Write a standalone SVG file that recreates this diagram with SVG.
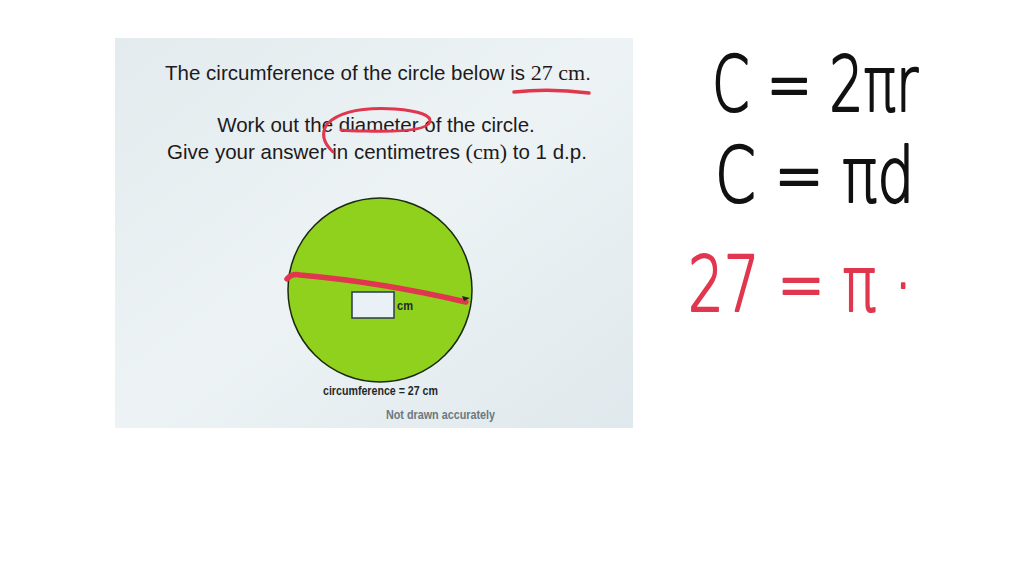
<svg xmlns="http://www.w3.org/2000/svg" width="1024" height="576" viewBox="0 0 1024 576">
<defs>
<linearGradient id="bg" x1="0" y1="0" x2="1" y2="1">
<stop offset="0" stop-color="#e3ebee"/>
<stop offset="0.5" stop-color="#edf3f5"/>
<stop offset="1" stop-color="#dfe8ec"/>
</linearGradient>
<style>
.q{font-family:"Liberation Sans",Arial,sans-serif;font-size:20.5px;fill:#1e1a1c}
.m{font-family:"Liberation Serif","Times New Roman",serif;font-size:22px}
.lbl{font-family:"Liberation Sans Narrow","Liberation Sans",sans-serif;font-size:13px;font-weight:bold;fill:#1e2a2c}
.hw{font-family:"DejaVu Sans",sans-serif;font-weight:200;font-size:76px;fill:#111;stroke:#111;stroke-width:2.2;stroke-linejoin:round}
.red{fill:none;stroke:#e0374f;stroke-linecap:round;stroke-linejoin:round}
</style>
</defs>
<rect width="1024" height="576" fill="#ffffff"/>
<g id="panel">
<rect x="115" y="38" width="518" height="390" fill="url(#bg)"/>
<text class="q" x="378" y="80" text-anchor="middle">The circumference of the circle below is <tspan class="m">27 cm</tspan>.</text>
<text class="q" x="376" y="132" text-anchor="middle">Work out the diameter of the circle.</text>
<text class="q" x="377" y="159" text-anchor="middle">Give your answer in centimetres <tspan class="m">(cm)</tspan> to 1 d.p.</text>
<circle cx="380" cy="290" r="92" fill="#8fd11d" stroke="#1a2a10" stroke-width="1.5"/>
<rect x="352" y="292" width="42" height="26" fill="#e9f0f6" stroke="#2b3d4e" stroke-width="1.5"/>
<text class="lbl" x="397" y="310" textLength="16" lengthAdjust="spacingAndGlyphs">cm</text>
<text class="lbl" x="323" y="395" textLength="115" lengthAdjust="spacingAndGlyphs">circumference = 27 cm</text>
<text class="lbl" x="386" y="419" font-size="11.5" style="fill:#6b7880" textLength="109" lengthAdjust="spacingAndGlyphs">Not drawn accurately</text>
</g>
<g id="annotations">
<path class="red" stroke-width="3.5" d="M514 92 Q550 88 589 93"/>
<path class="red" stroke-width="3" d="M333 152 Q318 138 327 124 Q345 106 395 109 Q432 112 430 122 Q425 133 365 131 Q350 131 341 130"/>
<path class="red" stroke-width="5.5" d="M287 279 Q292 273 300 275 Q380 282 466 302"/>
<path d="M462 296 L470 298 L464 301 Z" fill="#1a2a10"/>
</g>
<g id="working">
<g transform="translate(712,111) scale(0.71,1)"><text class="hw" x="0" y="0">C = 2πr</text></g>
<g transform="translate(715,202) scale(0.77,1)"><text class="hw" x="0" y="0">C = πd</text></g>
<g transform="translate(688,311) scale(0.74,1)"><text class="hw" x="0" y="0" style="fill:#e0374f;stroke:#e0374f">27 = π ·</text></g>
</g>
</svg>
